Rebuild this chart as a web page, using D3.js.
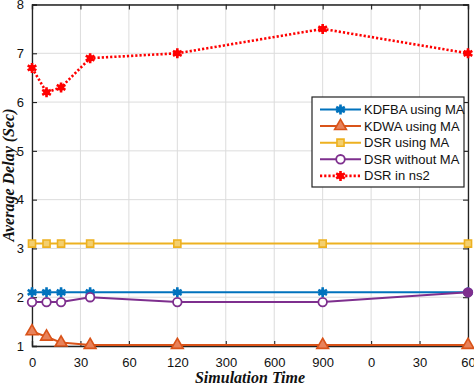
<!DOCTYPE html>
<html><head><meta charset="utf-8">
<script src="https://cdn.jsdelivr.net/npm/d3@7"></script>
<style>body{margin:0;background:#fff}</style>
</head><body>
<svg id="c" width="474" height="386"></svg>
<script>
const simTime = [0, 30, 60, 120, 300, 600, 900];
const xTickLabels = ["0","30","60","120","300","600","900","0","30","60"];
const yTicks = [1,2,3,4,5,6,7,8];
const seriesNames = ["KDFBA using MA","KDWA using MA","DSR using MA","DSR without MA","DSR in ns2"];
const kdfba = [2.1, 2.1, 2.1, 2.1, 2.1, 2.1, 2.1];
const kdwa = [1.3, 1.19, 1.07, 1.02, 1.02, 1.02, 1.02];
const dsrMA = [3.1, 3.1, 3.1, 3.1, 3.1, 3.1, 3.1];
const dsrNoMA = [1.9, 1.9, 1.9, 2.0, 1.9, 1.9, 2.1];
const dsrNs2 = [6.7, 6.2, 6.3, 6.9, 7.0, 7.5, 7.0];

const svg = d3.select("#c");
const L = 32, R = 468, T = 4.5, B = 346;
const x = d3.scaleLinear().domain([0, 900]).range([L, R]);
const y = d3.scaleLinear().domain([1, 8]).range([B, T]);
const xTickVals = d3.range(0, 1000, 100);

// grid
const g = svg.append("g");
g.selectAll(".vg").data(xTickVals).join("line")
  .attr("x1", d => x(d)).attr("x2", d => x(d)).attr("y1", T).attr("y2", B)
  .attr("stroke", "#dcdcdc").attr("stroke-width", 1);
g.selectAll(".hg").data(yTicks).join("line")
  .attr("y1", d => y(d)).attr("y2", d => y(d)).attr("x1", L).attr("x2", R)
  .attr("stroke", "#dcdcdc").attr("stroke-width", 1);

// axes
const xAxis = d3.axisBottom(x).tickValues(xTickVals).tickSize(-5).tickPadding(12)
  .tickFormat((d, i) => xTickLabels[i]);
const yAxis = d3.axisLeft(y).tickValues(yTicks).tickSize(-5).tickPadding(8).tickFormat(d3.format("d"));
const xTop = d3.axisTop(x).tickValues(xTickVals).tickSize(-5).tickFormat("");
const yRight = d3.axisRight(y).tickValues(yTicks).tickSize(-5).tickFormat("");
function style(sel){
  sel.selectAll("path").attr("stroke","#222").attr("stroke-width",1.3);
  sel.selectAll("line").attr("stroke","#222").attr("stroke-width",1.1);
  sel.selectAll("text").attr("font-family","Liberation Sans, Arial, sans-serif").attr("font-size",13).attr("fill","#111");
}
svg.append("g").attr("transform",`translate(0,${B})`).call(xAxis).call(style);
svg.append("g").attr("transform",`translate(${L},0)`).call(yAxis).call(style);
svg.append("g").attr("transform",`translate(0,${T})`).call(xTop).call(style);
svg.append("g").attr("transform",`translate(${R},0)`).call(yRight).call(style);

// series
const series = [
  {name: seriesNames[0], vals: kdfba, color: "#0072BD", sym: "ast", dash: null},
  {name: seriesNames[1], vals: kdwa, color: "#D95319", sym: "tri", dash: null},
  {name: seriesNames[2], vals: dsrMA, color: "#EDB120", sym: "sq", dash: null},
  {name: seriesNames[3], vals: dsrNoMA, color: "#7E2F8E", sym: "circ", dash: null},
  {name: seriesNames[4], vals: dsrNs2, color: "#FF0000", sym: "ast", dash: "2.2,2"}
];
const line = d3.line().x(d => x(d[0])).y(d => y(d[1]));

function marker(sel, s, cx, cy){
  const m = sel.append("g").attr("transform",`translate(${cx},${cy})`);
  if (s.sym === "ast") {
    m.append("path").attr("d", d3.symbol(d3.symbolAsterisk, 70)()).attr("stroke", s.color).attr("stroke-width", 2.6).attr("fill","none");
    m.append("circle").attr("r", 3.2).attr("fill", s.color);
  } else if (s.sym === "tri") {
    m.append("path").attr("d", d3.symbol(d3.symbolTriangle, 60)()).attr("fill", "#e8825a").attr("stroke", s.color).attr("stroke-width", 1.6);
  } else if (s.sym === "sq") {
    m.append("path").attr("d", d3.symbol(d3.symbolSquare, 50)()).attr("fill", "#f4cf6e").attr("stroke", s.color).attr("stroke-width", 1.6);
  } else {
    m.append("circle").attr("r", 4.3).attr("fill", "#fff").attr("stroke", s.color).attr("stroke-width", 1.8);
  }
}

series.forEach(s => {
  const pts = simTime.map((t, i) => [t, s.vals[i]]);
  const gs = svg.append("g");
  gs.append("path").attr("d", line(pts)).attr("fill","none").attr("stroke", s.color)
    .attr("stroke-width", s.dash ? 2.6 : 2).attr("stroke-dasharray", s.dash);
  pts.forEach(p => marker(gs, s, x(p[0]), y(p[1])));
});
// last purple point looks filled
svg.append("circle").attr("cx", x(simTime[6])).attr("cy", y(dsrNoMA[6])).attr("r", 4.3).attr("fill","#7E2F8E");

// legend
const lx = 312, ly = 97, lw = 152, lh = 90;
const lg = svg.append("g");
lg.append("rect").attr("x", lx).attr("y", ly).attr("width", lw).attr("height", lh)
  .attr("fill","#fff").attr("stroke","#222").attr("stroke-width",1.2);
series.forEach((s, i) => {
  const yy = ly + 12.5 + i * 16.6;
  lg.append("line").attr("x1", lx+8).attr("x2", lx+49).attr("y1", yy).attr("y2", yy)
    .attr("stroke", s.color).attr("stroke-width", s.dash ? 2.6 : 2).attr("stroke-dasharray", s.dash);
  marker(lg, s, lx + 28.5, yy);
  lg.append("text").attr("x", lx + 52).attr("y", yy).attr("dy","0.35em")
    .attr("font-family","Liberation Sans, Arial, sans-serif").attr("font-size",13).attr("fill","#111")
    .text(s.name);
});

// axis titles
svg.append("text").attr("x", 250).attr("y", 383).attr("text-anchor","middle")
  .attr("font-family","Liberation Serif, Times New Roman, serif").attr("font-weight","bold").attr("font-style","italic")
  .attr("font-size",16).attr("fill","#111").text("Simulation Time");
svg.append("text").attr("transform","translate(14,175) rotate(-90)").attr("text-anchor","middle")
  .attr("font-family","Liberation Serif, Times New Roman, serif").attr("font-weight","bold").attr("font-style","italic")
  .attr("font-size",16).attr("fill","#111").text("Average Delay (Sec)");
</script>
</body></html>
